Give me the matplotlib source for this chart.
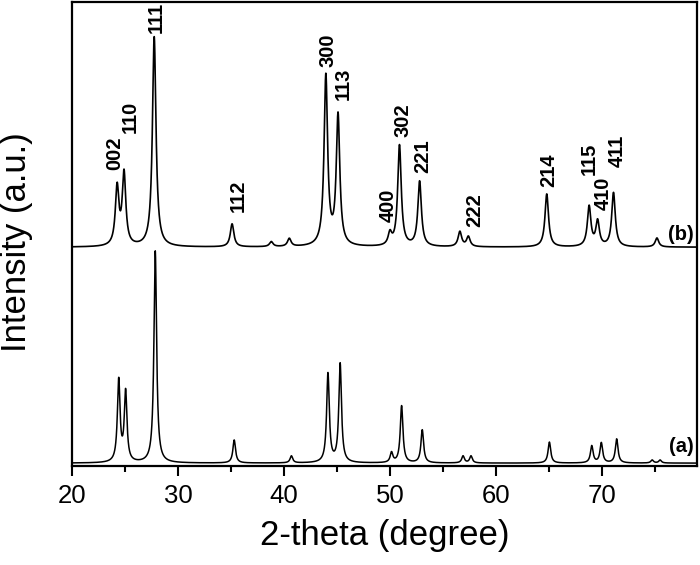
import numpy as np
import matplotlib.pyplot as plt
from matplotlib.ticker import MultipleLocator

plt.rcParams['font.family'] = ['Liberation Sans', 'DejaVu Sans']

# (a) simulated pattern: peak positions (2-theta) and heights
sim_pos = [24.4, 25.05, 27.85, 35.3, 40.7, 44.15, 45.3, 50.15, 51.1, 53.05,
           56.9, 57.65, 65.05, 69.05, 69.95, 71.4, 74.75, 75.5]
sim_int = [82, 70, 212, 23, 7, 89, 99, 10, 57, 33, 7, 7, 21, 17, 20, 24, 3, 3]

# (b) measured pattern: peak positions and heights
exp_pos = [24.25, 24.9, 27.75, 35.1, 38.8, 40.5, 43.95, 45.1, 50.0, 50.9,
           52.8, 56.6, 57.4, 64.8, 68.8, 69.6, 71.1, 75.2]
exp_int = [58, 72, 210, 23, 5, 8, 170, 130, 12, 101, 65, 15, 10, 53, 40, 25, 54, 9]

# Miller index labels for (b)
hkl_text = ['002', '110', '111', '112', '300', '113', '400', '302', '221',
            '222', '214', '115', '410', '411']
hkl_x = [24.0, 25.5, 27.9, 35.7, 44.2, 45.6, 49.8, 51.2, 53.1, 58.0, 65.0,
         68.8, 70.1, 71.5]
hkl_y = [296, 333, 433, 254, 399, 366, 244, 329, 293, 239, 279, 291, 256, 299]

base_a = 3
base_b = 219


def profile(x, pos, amp, fwhm):
    y = np.zeros_like(x)
    g = fwhm / 2.0
    for p, a in zip(pos, amp):
        y += a * g ** 2 / ((x - p) ** 2 + g ** 2)
    return y


def main():
    x = np.linspace(20, 79, 6000)
    ya = base_a + profile(x, sim_pos, sim_int, 0.30)
    yb = base_b + profile(x, exp_pos, exp_int, 0.40)

    fig = plt.figure(figsize=(7, 5.65), dpi=100)
    ax = fig.add_axes([0.103, 0.175, 0.893, 0.821])

    ax.plot(x, ya, color='black', lw=1.1)
    ax.plot(x, yb, color='black', lw=1.2)

    for t, tx, ty in zip(hkl_text, hkl_x, hkl_y):
        ax.text(tx, ty, t, rotation=90, ha='center', va='bottom',
                fontsize=14.5, fontweight='bold')

    ax.text(78.7, base_b + 3, '(b)', ha='right', va='bottom', fontsize=14.5, fontweight='bold')
    ax.text(78.7, base_a + 7, '(a)', ha='right', va='bottom', fontsize=14.5, fontweight='bold')

    ax.set_xlim(20, 79)
    ax.set_ylim(0, 464)
    ax.set_yticks([])
    ax.xaxis.set_major_locator(MultipleLocator(10))
    ax.xaxis.set_minor_locator(MultipleLocator(5))
    ax.tick_params(axis='x', which='major', direction='out', length=7, width=1.5,
                   labelsize=18.5, pad=6)
    ax.tick_params(axis='x', which='minor', direction='out', length=4, width=1.5)
    for s in ax.spines.values():
        s.set_linewidth(1.6)

    ax.set_xlabel('2-theta (degree)', fontsize=25, labelpad=8)
    ax.set_ylabel('Intensity (a.u.)', fontsize=25)
    ax.yaxis.set_label_coords(-0.062, 0.483)

    fig.savefig('out.png', dpi=100)


if __name__ == '__main__':
    main()
